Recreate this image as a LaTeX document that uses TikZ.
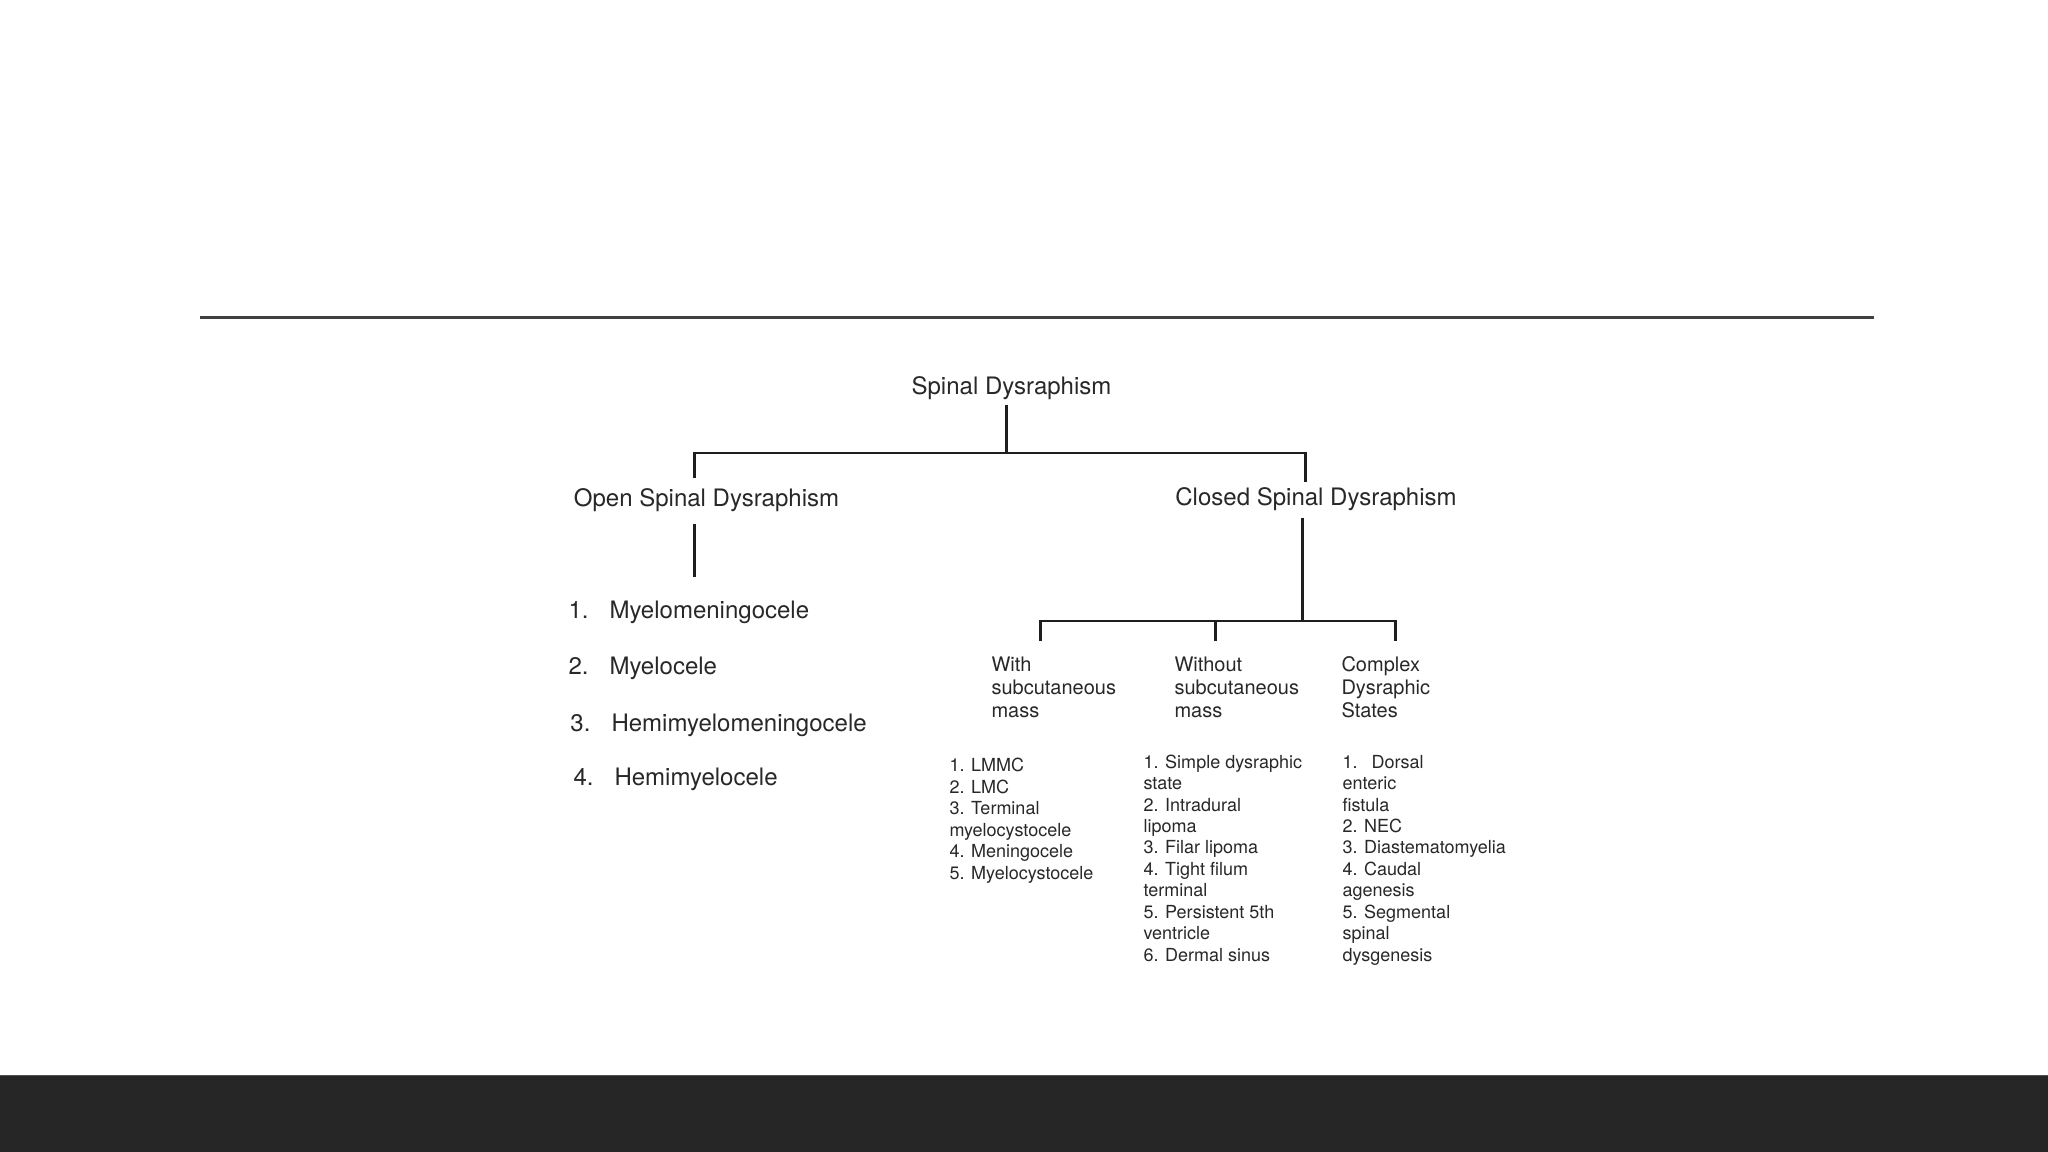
\documentclass[tikz,border=0pt]{standalone}
\usepackage{fontspec}
\setmainfont{TeX Gyre Heros}
\definecolor{faixa}{HTML}{262626}
\definecolor{texto}{HTML}{282828}
\definecolor{traco}{HTML}{1E1E1E}
\begin{document}
\begin{tikzpicture}[x=0.01cm,y=-0.01cm,line width=0.85pt,color=traco,
  titulo/.style={font=\fontsize{6.83pt}{8pt}\selectfont,text=texto,anchor=base,inner sep=0.03cm},
  item/.style={font=\fontsize{6.83pt}{8pt}\selectfont,text=texto,anchor=base west,inner sep=0pt},
  grupo/.style={font=\fontsize{5.69pt}{6.54pt}\selectfont,text=texto,anchor=base west,align=left,inner xsep=0pt,inner ysep=0.14cm},
  lista/.style={font=\fontsize{5.12pt}{6.09pt}\selectfont,text=texto,anchor=base west,align=left,inner sep=0pt}]
  \useasboundingbox (0,0) rectangle (2048,1152);
  \fill[white] (0,0) rectangle (2048,1152);
  %faixa de baixo
  \fill[faixa] (0,1075) rectangle (2048,1152);
  \draw[line width=0.4pt,faixa!80!white] (0,1075.5) -- (2048,1075.5);
  %linha do titulo
  \draw[line width=0.7pt,black!75] (200,317.5) -- (1874,317.5);

  %titulos
  \node[titulo] (sd) at (1011.5,395) {Spinal Dysraphism};
  \node[titulo,inner ysep=0.1cm] (osd) at (706.5,507) {Open Spinal Dysraphism};
  \node[titulo,inner ysep=0.05cm] (csd) at (1316,506) {Closed Spinal Dysraphism};

  %ramo de cima
  \coordinate (v1) at (1006,453);
  \coordinate (v2) at (694,453);
  \coordinate (v3) at (1305,453);
  \draw (sd.south -| v1) -- (v1);
  \draw (v2 |- osd.north) -- (v2) -- (v3) -- (v3 |- csd.north);

  %lado aberto
  \coordinate (v4) at (694,577);
  \draw (v2 |- osd.south) -- (v4);
  \node[item] (m1) at (567,619) {1.\hspace{0.21cm}Myelomeningocele};
  \node[item] (m2) at (567,675) {2.\hspace{0.21cm}Myelocele};
  \node[item] (m3) at (569,731) {3.\hspace{0.21cm}Hemimyelomeningocele};
  \node[item] (m4) at (572,785) {4.\hspace{0.21cm}Hemimyelocele};

  %lado fechado (base = ultima linha)
  \node[grupo] (gw) at (990,717) {With\\subcutaneous\\mass};
  \node[grupo] (go) at (1173,717) {Without\\subcutaneous\\mass};
  \node[grupo] (gc) at (1340,717) {Complex\\Dysraphic\\States};

  \coordinate (v5) at (1302,621);
  \coordinate (v6) at (1040,621);
  \coordinate (v7) at (1215,621);
  \coordinate (v8) at (1395,621);
  \draw (v5 |- csd.south) -- (v5);
  \draw (v6 |- gw.north) -- (v6) -- (v8) -- (v8 |- gc.north);
  \draw (v7) -- (v7 |- go.north);

  %listas
  \node[lista] (l1) at (948,879) {1. LMMC\\2. LMC\\3. Terminal\\myelocystocele\\4. Meningocele\\5. Myelocystocele};
  \node[lista] (l2) at (1142,961) {1. Simple dysraphic\\state\\2. Intradural\\lipoma\\3. Filar lipoma\\4. Tight filum\\terminal\\5. Persistent 5th\\ventricle\\6. Dermal sinus};
  \node[lista] (l3) at (1341,961) {1.\hspace{0.14cm}Dorsal\\enteric\\fistula\\2. NEC\\3. Diastematomyelia\\4. Caudal\\agenesis\\5. Segmental\\spinal\\dysgenesis};
\end{tikzpicture}
\end{document}
